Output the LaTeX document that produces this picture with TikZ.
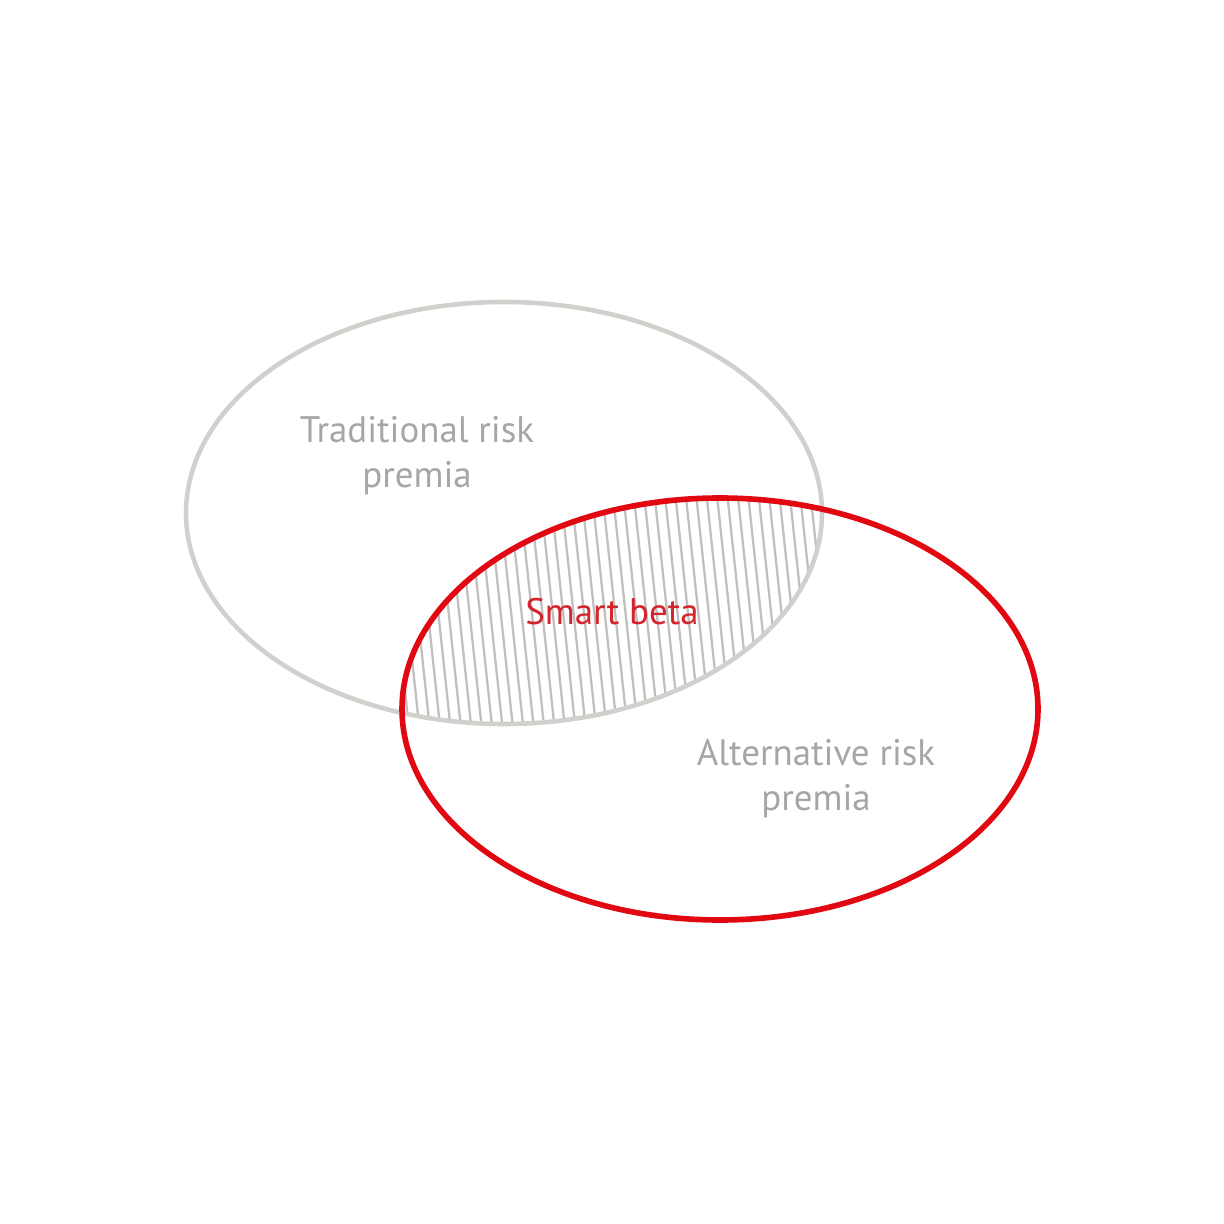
\documentclass[tikz,border=0pt]{standalone}
\usepackage{fontspec}
\setmainfont{PT Sans}
\usepackage{tikz}
\definecolor{setgray}{RGB}{208,208,204}
\definecolor{hatchgray}{RGB}{192,192,192}
\definecolor{labelgray}{RGB}{166,166,166}
\definecolor{setred}{RGB}{226,8,18}
\definecolor{labelred}{RGB}{212,36,44}
\newcommand{\setrx}{3.18}
\newcommand{\setry}{2.11}

\begin{document}
\begin{tikzpicture}[x=1cm,y=1cm,
    setline/.style={line width=1.3pt},
    hatchline/.style={hatchgray, line width=0.65pt},
    setlabel/.style={align=center, font=\fontsize{10.5}{12.8}\selectfont, inner sep=0pt}]
    \useasboundingbox[fill=white] (0,0) rectangle (12.24,-12.24);
    % centres of the two sets
    \coordinate (trad) at (5.04,-5.13);
    \coordinate (alt) at (7.20,-7.09);
    % hatched overlap
    \begin{scope}
        \clip (trad) ellipse [x radius=\setrx, y radius=\setry];
        \clip (alt) ellipse [x radius=\setrx, y radius=\setry];
        \foreach \i in {0,...,44}
            \draw[hatchline] (3.70+\i*0.104,-4.60) -- (4.02+\i*0.104,-7.60);
    \end{scope}
    \draw[setline, setgray] (trad) ellipse [x radius=\setrx, y radius=\setry];
    \draw[setline, setred, line width=1.6pt] (alt) ellipse [x radius=\setrx, y radius=\setry];
    % labels
    \node[setlabel, labelgray] (tradlabel) at (4.17,-4.56) {Traditional risk\\premia};
    \node[setlabel, labelred] (smartlabel) at (6.12,-6.12) {Smart beta};
    \node[setlabel, labelgray] (altlabel) at (8.16,-7.79) {Alternative risk\\premia};
\end{tikzpicture}
\end{document}
